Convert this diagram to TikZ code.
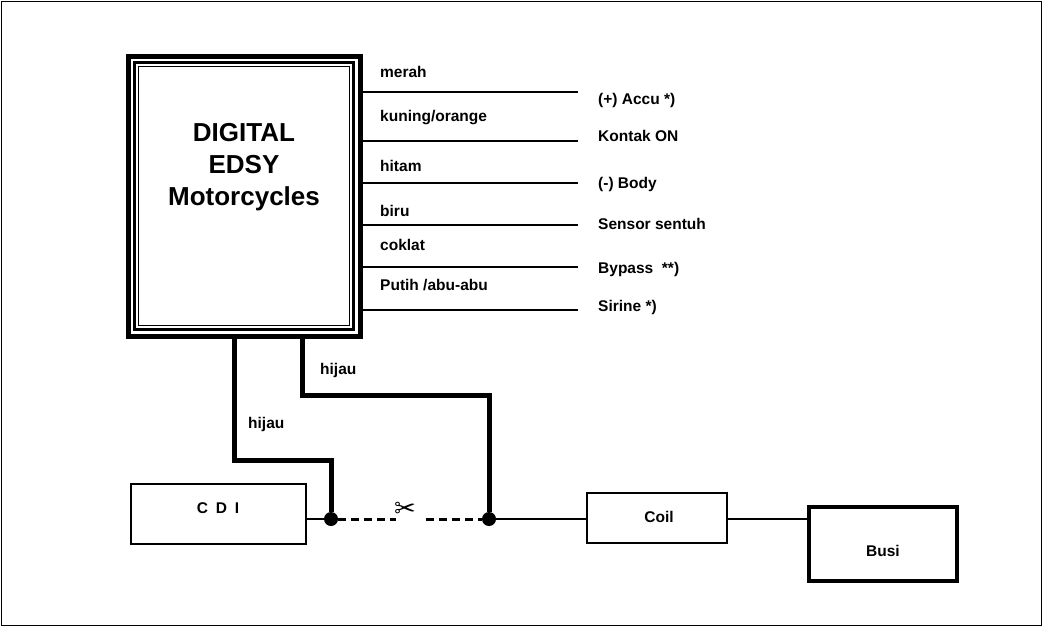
\documentclass[tikz,border=0pt]{standalone}
\usepackage{fontspec}
\setmainfont{Liberation Sans}
\newfontfamily\djv{DejaVu Sans}
\begin{document}
\begin{tikzpicture}[x=1pt,y=-1pt,
 lbl/.style={font=\bfseries\fontsize{15.5}{18}\selectfont,anchor=west,inner sep=0},
 sl/.style={font=\bfseries\fontsize{14}{16}\selectfont,anchor=west,inner sep=0},
 wire/.style={line width=2.2pt},
 hw/.style={line width=5pt},
 dot/.style={circle,fill=black,inner sep=0,minimum size=14pt}]
\useasboundingbox (0,0) rectangle (1044,627);
\draw[line width=1pt] (1,1) rectangle (1041,625);
% main box
\draw[line width=5pt] (128,56) rectangle (360,336);
\draw[line width=3.5pt] (134.5,62.5) rectangle (353.5,329.5);
\draw[line width=1.2pt] (138.5,66.5) rectangle (349.5,325.5);
\node[font=\bfseries\fontsize{26}{32}\selectfont,align=center] (mcu) at (244,167) {DIGITAL\\EDSY\\Motorcycles};
\foreach \y/\l/\ly/\r/\ry/\n in {92/merah/72/{(+) Accu *)}/100/a, 141/kuning\slash orange/118/Kontak ON/136/b, 183/hitam/166/{(-) Body}/184/c, 225/biru/211/Sensor sentuh/224/d, 267/coklat/245/{Bypass~~**)}/269/e, 310/{Putih /abu-abu}/285/{Sirine *)}/307/f}{
 \coordinate (s\n) at (362,\y); \coordinate (t\n) at (578,\y);
 \draw[wire] (s\n) -- (t\n);
 \node[\ifx\n b sl\else lbl\fi] (ll\n) at (380,\ly) {\l};
 \node[lbl] (rl\n) at (598,\ry) {\r};
}
% components
\node[draw,line width=2pt,minimum width=175pt,minimum height=60pt,font=\bfseries\fontsize{15.5}{18}\selectfont] (cdi) at (218.5,514) {};
\node[lbl,anchor=center] (cdit) at (218,508) {C\,\,\,D\,\,\,I};
\node[draw,line width=2pt,minimum width=140pt,minimum height=50pt] (coil) at (657,518) {};
\node[lbl,anchor=center] (coilt) at (659,517) {Coil};
\node[draw,line width=3.5pt,minimum width=148pt,minimum height=74pt] (busi) at (883,544) {};
\node[lbl,anchor=center] (busit) at (883,551) {Busi};
\node[dot] (j1) at (331,519) {};
\node[dot] (j2) at (489,519) {};
\coordinate (h1) at (234,338); \coordinate (h2) at (302,338);
\draw[hw] (h1) |- (331,460) -- (j1);
\draw[hw] (h2) |- (489,395) -- (j2);
\node[lbl] (hj1) at (320,370) {hijau};
\node[lbl] (hj2) at (248,424) {hijau};
\draw[line width=1.2pt] (cdi.east |- j1) -- (j1);
\draw[line width=3pt,dash pattern=on 8pt off 5pt] (j1) -- (396,519);
\draw[line width=3pt,dash pattern=on 8pt off 5pt] (426,519) -- (j2);
\node[font=\djv\fontsize{26}{26}\selectfont,inner sep=0] (sc) at (405,510) {✂};
\draw[line width=1.2pt] (j2) -- (coil.west |- j2);
\draw[line width=1.2pt] (coil.east |- j2) -- (busi.west |- j2);
\end{tikzpicture}
\end{document}
